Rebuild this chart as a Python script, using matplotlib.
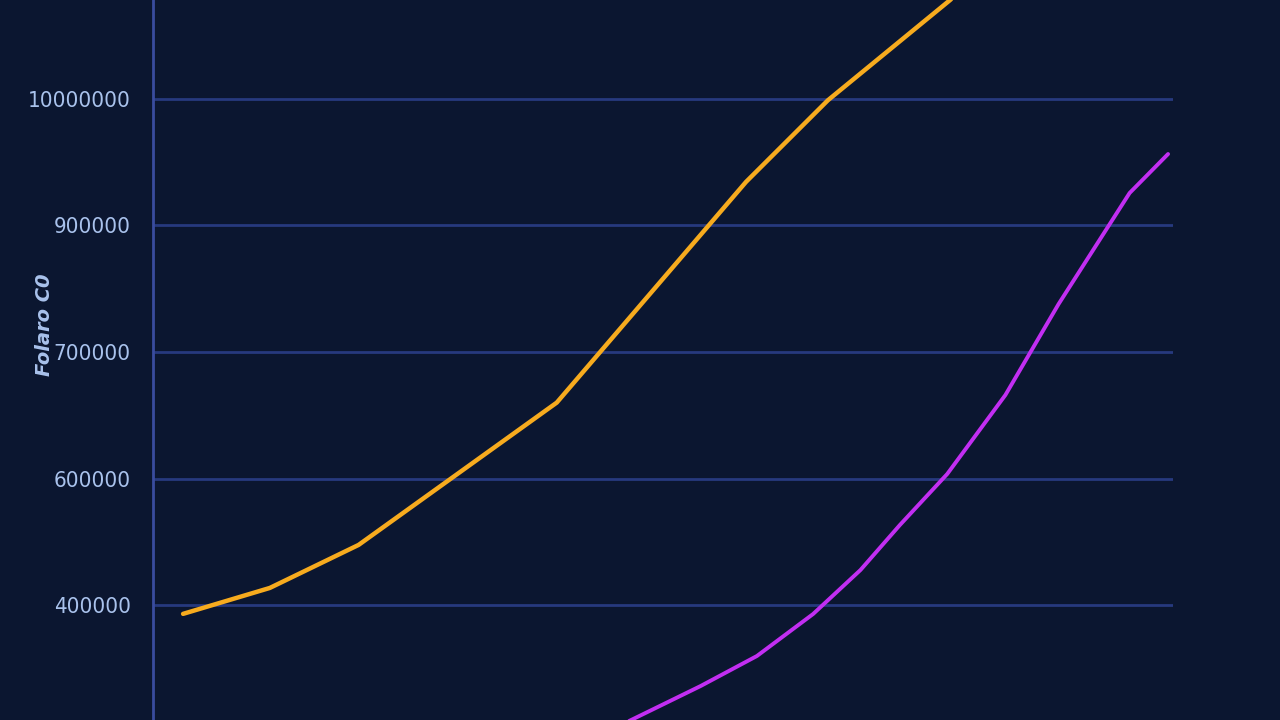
import matplotlib.pyplot as plt
from matplotlib import font_manager

# values (x in generic units, y in chart units)
orange_x = [0.0, 0.88, 1.78, 3.79, 5.71, 6.54, 7.78, 7.99]
orange_y = [386000, 427000, 495000, 720000, 1069000, 1198000, 1356500, 1388000]

purple_x = [4.13, 5.25, 5.82, 6.39, 6.87, 7.27, 7.75, 8.34, 8.88, 9.60, 9.99]
purple_y = [186600, 272000, 319400, 385800, 455300, 526500, 607100, 732000, 875900, 1051400, 1113000]

tick_pos = [200000, 400000, 600000, 800000, 1000000, 1200000]
tick_labels = ["300000", "400000", "600000", "700000", "900000", "10000000"]

bg = "#0b1630"
fonts = font_manager.fontManager.ttflist
narrow = [f for f in fonts if f.name == "Liberation Sans Narrow"]
cond = [f for f in fonts if f.name == "DejaVu Sans" and "condensed" in str(f.stretch)]
if narrow:
    tick_kw = dict(fontfamily="Liberation Sans Narrow", fontsize=19)
elif cond:
    tick_kw = dict(fontfamily="DejaVu Sans", fontstretch="condensed", fontsize=16)
else:
    tick_kw = dict(fontfamily="DejaVu Sans", fontsize=14)

fig = plt.figure(figsize=(12.8, 7.2), dpi=100, facecolor=bg)
ax = fig.add_axes([153 / 1280, -36 / 720, (1173 - 153) / 1280, 792 / 720])
ax.set_facecolor(bg)

ax.plot(orange_x, orange_y, color="#f7ab1e", lw=3.2, solid_capstyle="round", solid_joinstyle="round", zorder=3)
ax.plot(purple_x, purple_y, color="#c22ef2", lw=2.8, solid_capstyle="round", solid_joinstyle="round", zorder=3)

ax.set_xlim(-0.305, 10.04)
ax.set_ylim(161300, 1413400)
ax.set_yticks(tick_pos)
ax.set_yticklabels(tick_labels, color="#a9c2ec", **tick_kw)
ax.tick_params(axis="y", length=0, pad=16)
ax.set_xticks([])

ax.grid(axis="y", color="#27397e", lw=2)
ax.set_axisbelow(True)
for s in ["top", "right", "bottom"]:
    ax.spines[s].set_visible(False)
ax.spines["left"].set_color("#3a4c9e")
ax.spines["left"].set_linewidth(2)

fig.text(44 / 1280, 1 - 325 / 720, "Folaro C0", rotation=90, ha="center", va="center",
         fontsize=14, fontweight="bold", fontstyle="italic", color="#a9c2ec")

fig.savefig("out.png", dpi=100, facecolor=bg)
